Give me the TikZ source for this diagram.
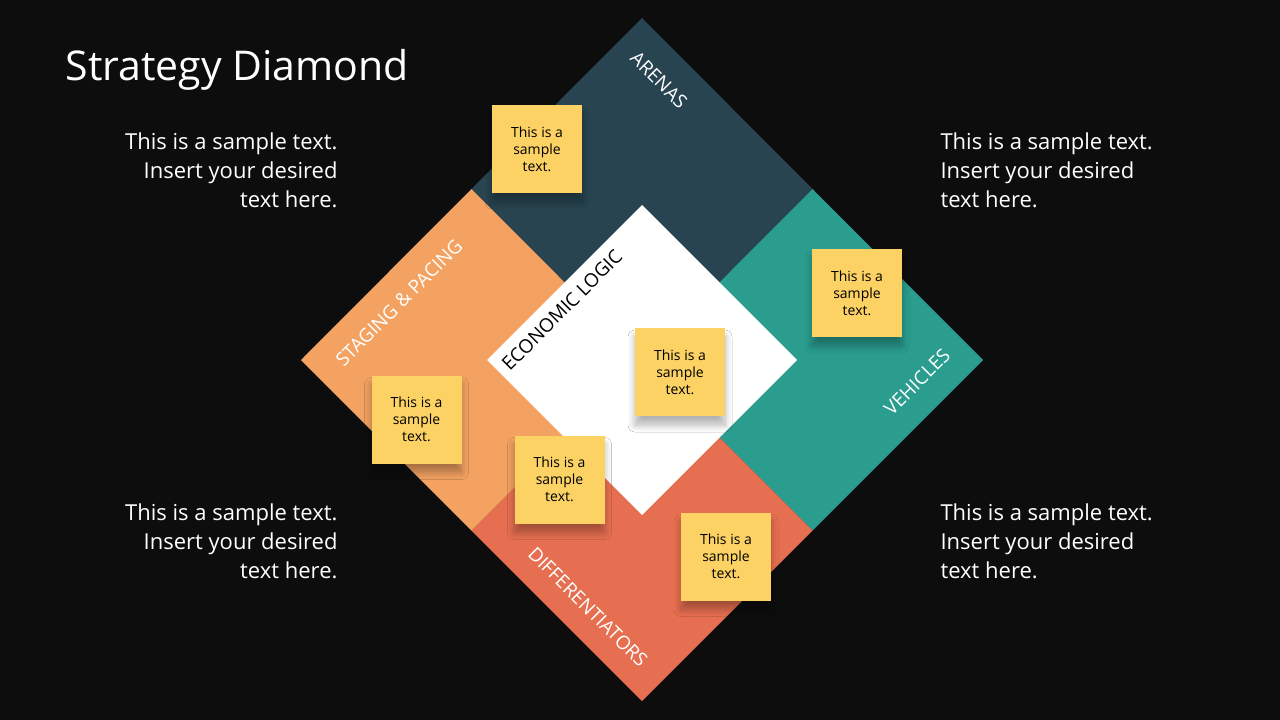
\documentclass[tikz,border=0pt]{standalone}
\usepackage{fontspec}
\setmainfont{Open Sans}
\usetikzlibrary{shadows.blur}
\definecolor{bgdark}{RGB}{13,13,13}
\definecolor{arenas}{RGB}{39,68,80}
\definecolor{vehicles}{RGB}{42,157,143}
\definecolor{differ}{RGB}{231,111,81}
\definecolor{staging}{RGB}{244,162,97}
\definecolor{sticky}{RGB}{252,210,101}
\tikzset{
  note/.style={fill=sticky, minimum width=90, minimum height=88, inner sep=0pt, align=center,
    font=\fontsize{14}{17}\selectfont, text=black, blur shadow={shadow xshift=0pt, shadow yshift=-9pt, shadow blur radius=7pt, shadow blur steps=10, shadow opacity=30}},
  lbl/.style={text=white, font=\fontsize{19}{22}\selectfont},
  side/.style={text=white, font=\fontsize{22}{29}\selectfont}
}
\begin{document}
\begin{tikzpicture}[x=1pt,y=-1pt]

% background
\fill [bgdark] (0,0) rectangle (1280,720);
\useasboundingbox (0,0) rectangle (1280,720);

% quadrants
\fill [arenas] (642,18) -- (812.5,189) -- (642,360) -- (471.5,189) -- cycle;
\fill [vehicles] (812.5,189) -- (983,360) -- (812.5,530.5) -- (642,360) -- cycle;
\fill [differ] (642,360) -- (812.5,530.5) -- (642,701) -- (471.5,530.5) -- cycle;
\fill [staging] (471.5,189) -- (642,360) -- (471.5,530.5) -- (301,360) -- cycle;

% centre
\fill [white] (642,205) -- (797,360) -- (642,515) -- (487,360) -- cycle;

% labels
\node (arenasLbl) [lbl, rotate=-45] at (659,80) {ARENAS};
\node (stagingLbl) [lbl, rotate=45] at (399,303) {STAGING \& PACING};
\node (econLbl) [lbl, text=black, rotate=45] at (562,310) {ECONOMIC LOGIC};
\node (vehiclesLbl) [lbl, rotate=45] at (917,382) {VEHICLES};
\node (differLbl) [lbl, rotate=-45] at (588,607) {DIFFERENTIATORS};

% sticky notes
\node (noteA) [note] at (537,149) {This is a\\sample\\text.};
\node (noteV) [note] at (857,293) {This is a\\sample\\text.};
\node (noteE) [note] at (680,372) {This is a\\sample\\text.};
\node (noteS) [note] at (416.5,419.5) {This is a\\sample\\text.};
\node (noteD) [note] at (559.5,479.5) {This is a\\sample\\text.};
\node (noteR) [note] at (726,556.5) {This is a\\sample\\text.};

% title and side texts
\node (title) [anchor=west, text=white, font=\fontsize{41}{48}\selectfont] at (62,70) {Strategy Diamond};
\node (textTL) [side, anchor=north east, align=right] at (341,129) {This is a sample text.\\Insert your desired\\text here.};
\node (textBL) [side, anchor=north east, align=right] at (341,500) {This is a sample text.\\Insert your desired\\text here.};
\node (textTR) [side, anchor=north west, align=left] at (937,129) {This is a sample text.\\Insert your desired\\text here.};
\node (textBR) [side, anchor=north west, align=left] at (937,500) {This is a sample text.\\Insert your desired\\text here.};

\end{tikzpicture}
\end{document}
